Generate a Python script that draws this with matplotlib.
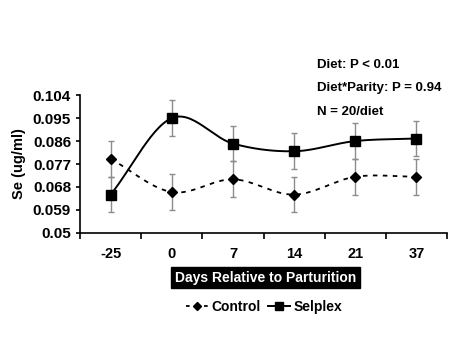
import numpy as np
import matplotlib
matplotlib.use('Agg')
import matplotlib.pyplot as plt

plt.rcParams['font.family'] = ['Liberation Sans', 'DejaVu Sans']
plt.rcParams['font.weight'] = 'bold'

# Data
days = ['-25', '0', '7', '14', '21', '37']
control = [0.079, 0.066, 0.071, 0.065, 0.072, 0.072]
control_err = [0.007, 0.007, 0.007, 0.007, 0.007, 0.007]
selplex = [0.065, 0.095, 0.085, 0.082, 0.086, 0.087]
selplex_err = [0.007, 0.007, 0.007, 0.007, 0.007, 0.007]
yticks = [0.05, 0.059, 0.068, 0.077, 0.086, 0.095, 0.104]
ytick_labels = ['0.05', '0.059', '0.068', '0.077', '0.086', '0.095', '0.104']
notes = ['Diet: P < 0.01', 'Diet*Parity: P = 0.94', 'N = 20/diet']


def smooth(x, y, n=30):
    # Catmull-Rom spline, like Excel's smoothed line
    x = np.asarray(x, float)
    y = np.asarray(y, float)
    px = np.concatenate([[2 * x[0] - x[1]], x, [2 * x[-1] - x[-2]]])
    py = np.concatenate([[2 * y[0] - y[1]], y, [2 * y[-1] - y[-2]]])
    xs, ys = [], []
    t = np.linspace(0, 1, n)
    for i in range(1, len(px) - 2):
        for arr, out in ((px, xs), (py, ys)):
            p0, p1, p2, p3 = arr[i - 1], arr[i], arr[i + 1], arr[i + 2]
            out.extend(0.5 * ((2 * p1) + (-p0 + p2) * t
                              + (2 * p0 - 5 * p1 + 4 * p2 - p3) * t ** 2
                              + (-p0 + 3 * p1 - 3 * p2 + p3) * t ** 3))
    return np.array(xs), np.array(ys)


fig = plt.figure(figsize=(4.74, 3.55), dpi=100)
ax = fig.add_axes([0.169, 0.344, 0.774, 0.388])

x = np.arange(len(days))

ax.errorbar(x, control, yerr=control_err, fmt='none', ecolor='#8c8c8c',
            elinewidth=1, capsize=2, capthick=1, zorder=2)
ax.errorbar(x, selplex, yerr=selplex_err, fmt='none', ecolor='#8c8c8c',
            elinewidth=1, capsize=2, capthick=1, zorder=2)

sx, sy = smooth(x, control)
ax.plot(sx, sy, color='black', lw=1.3, ls=(0, (2.5, 3)), zorder=3)
ax.plot(x, control, ls='none', marker='D', ms=5, color='black', zorder=4)

sx, sy = smooth(x, selplex)
ax.plot(sx, sy, color='black', lw=1.4, zorder=3)
ax.plot(x, selplex, ls='none', marker='s', ms=7, color='black', zorder=4)

ax.set_xlim(-0.5, len(days) - 0.5)
ax.set_ylim(0.05, 0.104)
ax.set_xticks(np.arange(-0.5, len(days)), [''] * (len(days) + 1))
ax.set_xticks(x, days, minor=True)
ax.tick_params(axis='x', which='minor', length=0, pad=10, labelsize=10.5)
ax.tick_params(axis='x', which='major', direction='out', length=4, width=1.2)
ax.set_yticks(yticks, ytick_labels)
ax.tick_params(axis='y', direction='out', length=3, width=1.2, labelsize=11)
for lab in ax.get_xticklabels(minor=True) + ax.get_yticklabels():
    lab.set_fontweight('bold')

ax.spines['top'].set_visible(False)
ax.spines['right'].set_visible(False)
ax.spines['left'].set_linewidth(1.2)
ax.spines['bottom'].set_linewidth(1.2)

ax.set_ylabel('Se (ug/ml)', fontsize=10.5, fontweight='bold', labelpad=5)

fig.text(0.560, 0.217, 'Days Relative to Parturition', ha='center', va='center',
         color='white', fontsize=10, fontweight='bold',
         bbox=dict(facecolor='black', edgecolor='black', boxstyle='square,pad=0.25'))

for i, note in enumerate(notes):
    fig.text(0.668, 0.817 - i * 0.066, note, ha='left', va='center',
             fontsize=9.5, fontweight='bold')

handles = [
    plt.Line2D([], [], color='black', lw=1.3, ls=(0, (2, 3)), marker='D', ms=4),
    plt.Line2D([], [], color='black', lw=1.4, marker='s', ms=6),
]
fig.legend(handles, ['Control', 'Selplex'], loc='center', bbox_to_anchor=(0.557, 0.135),
           ncol=2, frameon=False, handlelength=1.6, handletextpad=0.25, columnspacing=0.5,
           prop={'size': 10, 'weight': 'bold'})

fig.savefig('out.png', dpi=100)
